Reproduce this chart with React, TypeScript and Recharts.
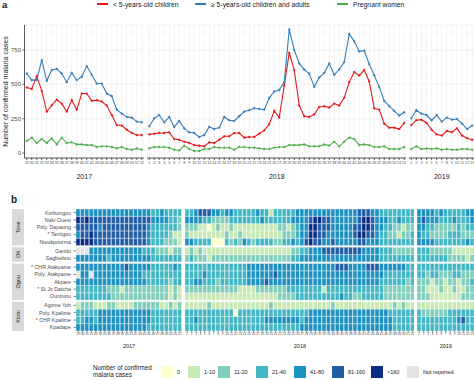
import React from 'react';
import { LineChart, Line, XAxis, YAxis, CartesianGrid, ReferenceLine, BarChart, Bar, Cell } from 'recharts';

const FONT = '"Liberation Sans", Arial, Helvetica, sans-serif';

// ---- panel a: weekly confirmed cases ----
const weeks2017 = [29, 30, 31, 32, 33, 34, 35, 36, 37, 38, 39, 40, 41, 42, 43, 44, 45, 46, 47, 48, 49, 50, 51, 52];
const weeks2018 = [1, 2, 3, 4, 5, 6, 7, 8, 9, 10, 11, 12, 13, 14, 15, 16, 17, 18, 19, 20, 21, 22, 23, 24, 25, 26,
  27, 28, 29, 30, 31, 32, 33, 34, 35, 36, 37, 38, 39, 40, 41, 42, 43, 44, 45, 46, 47, 48, 49, 50, 51, 52];
const weeks2019 = [1, 2, 3, 4, 5, 6, 7, 8, 9, 10, 11, 12, 13];

const under5_2017 = [477, 467, 560, 453, 302, 348, 389, 360, 302, 385, 316, 433, 433, 380, 385, 375, 346, 277, 204, 200, 170, 146, 131, 131];
const over5_2017 = [579, 531, 531, 677, 526, 604, 613, 579, 516, 584, 531, 555, 633, 570, 506, 506, 433, 414, 316, 287, 263, 258, 229, 224];
const pregnant_2017 = [88, 112, 73, 102, 73, 107, 63, 112, 73, 78, 63, 63, 58, 58, 44, 49, 49, 44, 34, 44, 29, 24, 34, 24];

const under5_2018 = [136, 141, 146, 146, 151, 102, 97, 83, 73, 58, 54, 49, 78, 73, 97, 122, 122, 146, 146, 112, 117, 117, 141, 165, 210,
  307, 258, 492, 730, 604, 346, 268, 263, 282, 336, 341, 331, 360, 346, 404, 516, 589, 565, 604, 521, 326, 316, 214, 185, 185, 175, 219];
const over5_2018 = [195, 253, 277, 224, 263, 190, 234, 180, 151, 146, 117, 131, 190, 175, 185, 263, 239, 234, 268, 302, 312, 326, 321, 316, 400,
  448, 458, 516, 900, 750, 652, 608, 579, 482, 550, 584, 652, 570, 608, 662, 867, 813, 740, 745, 647, 565, 482, 380, 341, 307, 273, 297];
const pregnant_2018 = [34, 44, 44, 44, 39, 24, 19, 54, 29, 15, 15, 29, 29, 44, 39, 39, 39, 24, 44, 44, 39, 39, 34, 29,
  29, 39, 44, 44, 58, 58, 58, 63, 49, 49, 49, 63, 54, 83, 49, 83, 112, 102, 58, 63, 58, 44, 44, 49, 29, 29, 29, 44];

const under5_2019 = [204, 239, 243, 219, 170, 136, 127, 161, 151, 180, 127, 107, 97];
const over5_2019 = [253, 312, 287, 277, 239, 277, 229, 258, 243, 248, 214, 175, 200];
const pregnant_2019 = [29, 49, 29, 34, 29, 34, 24, 29, 24, 24, 29, 29, 24];

const yTicks = [0, 250, 500, 750];
const yMinor = [125, 375, 625, 875];

// ---- panel b: case class per site and week ----
// codes: 0 = 0, 1 = 1-10, 2 = 11-20, 3 = 21-40, 4 = 41-80, 5 = 81-160, 6 = >160, n = not reported
const siteNames = ['Korbongou', 'Naki Ouest', 'Poly. Dapaong', '* Tantigou', 'Nioukpourma', 'Gando', 'Sagbiebou',
  '* CHR Atakpame', 'Poly. Atakpame', 'Akpare', '* St Jo Datcha', 'Ountivou', 'Agome Yoh', 'Poly. Kpalime', '* CHP Kpalime', 'Kpadape'];
const regionNames = ['Tone', 'Oti', 'Ogou', 'Kloto'];
const regionSizes = [5, 2, 5, 4];

const heat2017 = [
  '4444 4444 4444 4444 4334 3333',
  '6565 5555 5555 5555 5444 4332',
  '5555 5455 5555 5555 4333 3332',
  '4556 5555 5555 5555 4333 3211',
  '6666 5555 5555 5555 4333 2221',
  'nnn4 4444 4444 4443 3322 2122',
  '4444 4443 4444 4444 4333 3333',
  '4444 4444 4445 4444 4333 3343',
  'n44n 4444 4444 4443 3333 3333',
  '4444 4444 4444 4444 3333 3233',
  '3333 3332 2212 2222 2222 2121',
  '3333 3333 2222 2222 2222 2121',
  '1222 1112 2111 1222 2221 1212',
  '3333 3444 4444 4444 4333 3333',
  '3344 3444 4444 4444 4333 3333',
  '4444 4444 4444 4444 3333 3333',
];
const heat2018 = [
  '3345 5544 3443 3333 4331 3333 34 4444 4444 4444 4555 4433 3333 33',
  '4444 3322 2233 3333 3433 3333 44 4456 6554 4444 4566 5444 3343 33',
  '2221 1012 1121 1111 1111 1221 23 4466 5554 4444 5566 5443 3221 22',
  '2111 1111 1211 2111 1111 1122 23 4466 5544 4444 5665 5433 2212 23',
  '4433 3300 0323 2432 3333 2233 43 4565 5445 4444 4554 4433 3333 33',
  '1212 1111 1111 1111 1111 1111 22 3344 4555 5555 5544 4433 3222 22',
  '2322 2122 2222 2222 2222 2222 33 4444 4444 4444 4444 4433 3333 33',
  '3333 3333 3333 3344 4444 4444 44 4444 4444 5554 4445 5544 4444 33',
  '3333 4333 3333 3344 4444 5444 44 4444 4444 4444 4444 4443 3333 33',
  '3344 3332 3333 3344 4454 4444 44 4444 4444 4444 4444 4433 3333 23',
  '2222 2222 2222 1111 2222 2223 33 3333 3133 3333 3333 3332 2222 22',
  '1111 1111 1111 1111 1111 1222 23 3333 3333 3433 2233 3332 2222 22',
  '1111 1211 1111 1111 1112 1111 11 1111 1112 1111 1111 1111 1212 11',
  '3333 3333 3330 3333 3333 3333 33 3344 4444 4444 4444 4444 3333 33',
  '3343 3333 3333 3333 3344 4444 44 3444 4444 4444 4444 4444 4333 33',
  '3333 3333 3333 3333 3333 3333 33 4444 4444 4444 4444 4444 4333 33',
];
const heat2019 = [
  '4444 3433 3334 4',
  '4544 4333 4333 4',
  '4433 2222 2323 3',
  '4332 2223 3322 2',
  '4444 3333 3334 3',
  '3332 2222 1111 1',
  '3333 3332 2221 2',
  '3333 3333 3333 3',
  '3323 3222 3322 2',
  '2221 2212 2122 3',
  '2211 1211 2112 2',
  '2221 1111 1122 2',
  '1111 1111 1111 1',
  '3222 2223 3333 3',
  '3333 3333 3453 3',
  '3333 3333 3333 3',
];

const classCodes = ['0', '1', '2', '3', '4', '5', '6', 'n'];
const classLabels = ['0', '1-10', '11-20', '21-40', '41-80', '81-160', '>160', 'Not reported'];
const classColors: Record<string, string> = {
  '0': '#ffffcc', '1': '#c7e9b4', '2': '#7fcdbb', '3': '#41b6c4',
  '4': '#1d91c0', '5': '#225ea8', '6': '#0c2c84', n: '#e3e3e3',
};

const RED = '#e41a1c';
const BLUE = '#377eb8';
const GREEN = '#4daf4a';

// heatmap geometry
const GAP = 0.23;
const HEAT_H = 122;
const stackOrder: { key: string; site: number }[] = [];
{
  let s = siteNames.length - 1;
  for (let r = regionSizes.length - 1; r >= 0; r--) {
    for (let k = 0; k < regionSizes[r]; k++) { stackOrder.push({ key: 'r' + s, site: s }); s--; }
    if (r > 0) stackOrder.push({ key: 'gap' + r, site: -1 });
  }
}
const rowCenters: number[] = [];
let TOTAL = 0;
stackOrder.forEach((it) => {
  if (it.site >= 0) rowCenters[it.site] = TOTAL + 0.5;
  TOTAL += it.site >= 0 ? 1 : GAP;
});
const regionStart = regionSizes.map((_, i) => regionSizes.slice(0, i).reduce((a, b) => a + b, 0));

function SiteTick(props: any) {
  const { x, y, payload } = props;
  const i = rowCenters.findIndex((c) => Math.abs(c - payload.value) < 1e-6);
  const r = regionStart.indexOf(i);
  const rowPx = HEAT_H / TOTAL;
  return (
    <g>
      <text x={x} y={y} dy="0.35em" textAnchor="end" fontSize={5.3} fill="#4d4d4d" fontFamily={FONT}>{siteNames[i]}</text>
      {r >= 0 && (
        <g>
          <rect x={12} y={y - rowPx / 2} width={12} height={regionSizes[r] * rowPx} fill="#d9d9d9" />
          <text
            transform={`translate(18, ${y - rowPx / 2 + (regionSizes[r] * rowPx) / 2}) rotate(-90)`}
            textAnchor="middle" dy="0.35em" fontSize={5.5} fill="#1a1a1a" fontFamily={FONT}
          >
            {regionNames[r]}
          </text>
        </g>
      )}
    </g>
  );
}

function CasesFacet({ year, weeks, u5, o5, pw, left, width, withY }: any) {
  const data = weeks.map((w: number, i: number) => ({ week: w, u5: u5[i], o5: o5[i], pw: pw[i] }));
  const yW = withY ? 24.5 : 0;
  return (
    <div style={{ position: 'absolute', left, top: 20 }}>
      <LineChart width={width + yW} height={162} data={data} margin={{ top: 5, right: 0, bottom: 0, left: 0 }}>
        <CartesianGrid stroke="#ebebeb" strokeWidth={0.6} />
        {yMinor.map((v) => <ReferenceLine key={v} y={v} stroke="#f4f4f4" strokeWidth={0.5} />)}
        <XAxis
          type="number" dataKey="week" domain={[weeks[0] - 0.45, weeks[weeks.length - 1] + 0.45]}
          ticks={weeks} interval={0} allowDataOverflow height={24}
          tick={{ fontSize: 3.8, fill: '#4d4d4d', fontFamily: FONT }} tickSize={2} tickMargin={1}
          stroke="#333" strokeWidth={0.8}
          label={{ value: year, position: 'insideBottom', offset: 3, fontSize: 7, fill: '#1a1a1a', fontFamily: FONT }}
        />
        <YAxis
          hide={!withY} width={yW} type="number" domain={[-36, 932]} ticks={yTicks} interval={0} allowDataOverflow
          tick={{ fontSize: 6, fill: '#4d4d4d', fontFamily: FONT }} tickSize={2} tickMargin={1.5}
          stroke="#333" strokeWidth={0.8}
          label={{ value: 'Number of confirmed malaria cases', angle: -90, position: 'insideLeft', offset: 5.5,
            fontSize: 7, fill: '#1a1a1a', fontFamily: FONT, style: { textAnchor: 'middle' } }}
        />
        <Line dataKey="u5" stroke={RED} strokeWidth={1.1} dot={{ r: 0.9, fill: RED, stroke: RED, strokeWidth: 0.5 }} isAnimationActive={false} />
        <Line dataKey="o5" stroke={BLUE} strokeWidth={1.1} dot={{ r: 0.9, fill: BLUE, stroke: BLUE, strokeWidth: 0.5 }} isAnimationActive={false} />
        <Line dataKey="pw" stroke={GREEN} strokeWidth={1.1} dot={{ r: 0.9, fill: GREEN, stroke: GREEN, strokeWidth: 0.5 }} isAnimationActive={false} />
      </LineChart>
    </div>
  );
}

function HeatFacet({ year, weeks, codes, left, width, withY }: any) {
  const rows = codes.map((s: string) => s.replace(/\s/g, ''));
  const data = weeks.map((w: number) => {
    const d: any = { week: w };
    stackOrder.forEach((it) => { d[it.key] = it.site >= 0 ? 1 : GAP; });
    return d;
  });
  const yW = withY ? 76 : 0;
  return (
    <div style={{ position: 'absolute', left, top: 203.7 }}>
      <BarChart width={width + yW} height={145} data={data} margin={{ top: 5, right: 0, bottom: 0, left: 0 }}
        barCategoryGap={0} barGap={0}>
        <XAxis
          dataKey="week" interval={0} height={18} axisLine={false}
          tick={{ fontSize: 3.3, fill: '#4d4d4d', fontFamily: FONT }} tickSize={1.5} tickMargin={0.5}
          stroke="#333" strokeWidth={0.6}
          label={{ value: year, position: 'insideBottom', offset: 1, fontSize: 5.5, fill: '#1a1a1a', fontFamily: FONT }}
        />
        <YAxis
          hide={!withY} width={yW} type="number" domain={[0, TOTAL]} ticks={rowCenters} interval={0}
          axisLine={false} tickSize={2.5} tickMargin={2.5} stroke="#333" strokeWidth={0.6}
          tick={(p: any) => <SiteTick {...p} />}
        />
        {stackOrder.map((it) => (
          <Bar key={it.key} dataKey={it.key} stackId="s" isAnimationActive={false}
            fill="transparent" stroke={it.site >= 0 ? '#ffffff' : 'none'} strokeWidth={0.35}>
            {it.site >= 0 && weeks.map((w: number, i: number) => (
              <Cell key={w} fill={classColors[rows[it.site][i]]} />
            ))}
          </Bar>
        ))}
      </BarChart>
    </div>
  );
}

const legendA = [
  { label: '< 5-years-old children', color: RED, left: 97 },
  { label: '\u2265 5-years-old children and adults', color: BLUE, left: 195 },
  { label: 'Pregnant women', color: GREEN, left: 337 },
];
const swatchLefts = [161, 188, 218, 256, 294, 332, 371, 407];

export default function App() {
  return (
    <div style={{ position: 'fixed', left: 0, top: 0, width: 474, height: 380, background: '#fff', fontFamily: FONT, overflow: 'hidden', color: '#1a1a1a' }}>
      <div style={{ position: 'absolute', left: 2, top: 0, fontSize: 9.5, lineHeight: '9px', fontWeight: 'bold' }}>a</div>
      {legendA.map((l) => (
        <div key={l.label} style={{ position: 'absolute', left: l.left, top: 0.5, height: 7, display: 'flex', alignItems: 'center', fontSize: 6.8, whiteSpace: 'nowrap' }}>
          <div style={{ width: 11, height: 1.1, background: l.color, marginRight: 5 }} />
          <span>{l.label}</span>
        </div>
      ))}

      <CasesFacet year="2017" weeks={weeks2017} u5={under5_2017} o5={over5_2017} pw={pregnant_2017} left={0} width={119.5} withY />
      <CasesFacet year="2018" weeks={weeks2018} u5={under5_2018} o5={over5_2018} pw={pregnant_2018} left={146.5} width={259.5} withY={false} />
      <CasesFacet year="2019" weeks={weeks2019} u5={under5_2019} o5={over5_2019} pw={pregnant_2019} left={408.5} width={65.5} withY={false} />

      <div style={{ position: 'absolute', left: 11, top: 195, fontSize: 10, lineHeight: '10px', fontWeight: 'bold' }}>b</div>

      <HeatFacet year="2017" weeks={weeks2017} codes={heat2017} left={0} width={106} withY />
      <HeatFacet year="2018" weeks={weeks2018} codes={heat2018} left={184.5} width={229.8} withY={false} />
      <HeatFacet year="2019" weeks={weeks2019} codes={heat2019} left={416.8} width={57.5} withY={false} />

      <div style={{ position: 'absolute', left: 93, top: 364, fontSize: 6.3, lineHeight: '7px' }}>
        Number of confirmed<br />malaria cases
      </div>
      {classCodes.map((c, i) => (
        <div key={c} style={{ position: 'absolute', left: swatchLefts[i], top: 366, display: 'flex', alignItems: 'center', fontSize: 5.5, whiteSpace: 'nowrap' }}>
          <div style={{ width: 12, height: 12, background: classColors[c], marginRight: 4 }} />
          <span>{classLabels[i]}</span>
        </div>
      ))}
    </div>
  );
}
